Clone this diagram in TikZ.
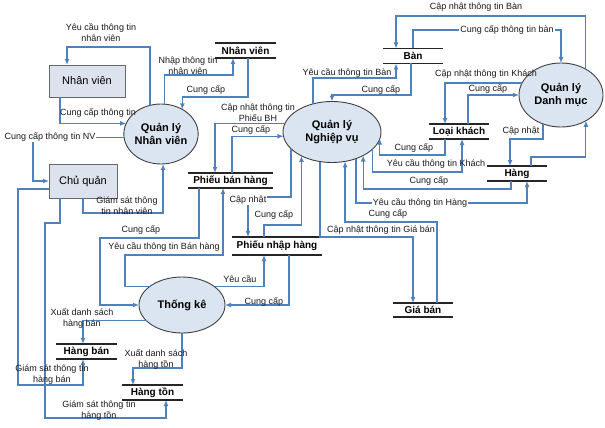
\documentclass[tikz,border=0pt]{standalone}
\usepackage{fontspec}
\setmainfont{Liberation Sans}
\usetikzlibrary{arrows.meta,shapes.geometric}
\definecolor{flowblue}{RGB}{79,129,189}
\definecolor{bubblefill}{RGB}{219,229,241}
\definecolor{boxfill}{RGB}{220,227,238}
\definecolor{edgegray}{RGB}{64,64,64}
\begin{document}
\begin{tikzpicture}[y=1pt, x=1pt, yscale=-1, inner sep=0pt, outer sep=0pt,
  flow/.style={draw=flowblue, line width=1.2pt, -{Latex[length=6pt,width=5pt]}},
  lbl/.style={font=\fontsize{9}{11}\selectfont, align=center, text=black!90},
  onlbl/.style={lbl, fill=white, inner sep=1pt},
  process/.style={ellipse, draw=edgegray, line width=0.9pt, fill=bubblefill, align=center,
    font=\fontsize{11}{13}\selectfont\bfseries},
  extern/.style={rectangle, draw=edgegray!80, line width=0.9pt, fill=boxfill,
    font=\fontsize{11}{13}\selectfont},
  store/.style={minimum width=#1, minimum height=15, font=\fontsize{10}{12}\selectfont\bfseries,
    append after command={(\tikzlastnode.north west) edge[draw=black!85, line width=1.2pt] (\tikzlastnode.north east)
      (\tikzlastnode.south west) edge[draw=black!85, line width=1.2pt] (\tikzlastnode.south east)}}]
\useasboundingbox (0,0) rectangle (605,428);
  \node[extern, minimum width=76, minimum height=32] (nvbox) at (87,81) {Nhân viên};
  \node[extern, minimum width=68, minimum height=34] (cqbox) at (83,181) {Chủ quản};
  \node[process, minimum width=72, minimum height=60] (qlnv) at (161,134) {Quản lý\\Nhân viên};
  \node[process, minimum width=98, minimum height=61] (qlnvu) at (332,132) {Quản lý\\Nghiệp vụ};
  \node[process, minimum width=84, minimum height=64] (qldm) at (561,95) {Quản lý\\Danh mục};
  \node[process, minimum width=86, minimum height=56] (tk) at (182,305) {Thống kê};
  \node[store=61] (dsnv) at (245.5,50.5) {Nhân viên};
  \node[store=60] (dsban) at (413,56) {Bàn};
  \node[store=60] (dslk) at (459,131.5) {Loại khách};
  \node[store=60] (dshang) at (517,173.5) {Hàng};
  \node[store=85] (dspbh) at (230.5,180.5) {Phiếu bán hàng};
  \node[store=90, minimum height=18] (dspnh) at (277,246) {Phiếu nhập hàng};
  \node[store=60, minimum height=14] (dsgb) at (423,310) {Giá bán};
  \node[store=61] (dshb) at (86.5,351.5) {Hàng bán};
  \node[store=61] (dsht) at (152.5,392.5) {Hàng tồn};

  \draw[flow] (qlnv.111) |- (67,47) -- (67,0 |- nvbox.north);
  \draw[flow] (60,0 |- nvbox.south) |- (qlnv.163);
  \draw[flow] (qlnv.186) -| (33,181) -- (cqbox.west);
  \draw[flow] (cqbox.south) |- (qlnv.-86 |- 0,213) -- (qlnv.-86);
  \draw[flow] (qlnv.84) |- (233,75) -- (233,0 |- dsnv.south);
  \draw[flow] (248,0 |- dsnv.south) |- (qlnv.49 |- 0,97) -- (qlnv.49);
  \draw[flow] (qlnvu.170) -| (215,0 |- dspbh.north);
  \draw[flow] (232,0 |- dspbh.north) |- (qlnvu.185);
  \draw[flow] (199,0 |- dspbh.south) |- (100,238) |- (tk.west);
  \draw[flow] (tk.150) -| (125,255) -| (223,0 |- dspbh.south);
  \draw[flow] (qlnvu.-158) |- (248,197) -- (248,0 |- dspnh.north);
  \draw[flow] (264,0 |- dspnh.north) |- (qlnvu.-142 |- 0,225) -- (qlnvu.-142);
  \draw[flow] (qlnvu.-112) |- (413,237) -- (413,0 |- dsgb.north);
  \draw[flow] (437,0 |- dsgb.north) |- (qlnvu.-66 |- 0,222) -- (qlnvu.-66);
  \draw[flow] (qlnvu.-48) |- (527,203) -- (527,0 |- dshang.south);
  \draw[flow] (511,0 |- dshang.south) |- (qlnvu.-37 |- 0,189) -- (qlnvu.-37);
  \draw[flow] (qlnvu.-23) |- (462,172) -- (462,0 |- dslk.south);
  \draw[flow] (445,0 |- dslk.south) |- (qlnvu.-8 |- 0,155) -- (qlnvu.-8);
  \draw[flow] (qlnvu.124) |- (396,78) -- (396,0 |- dsban.south);
  \draw[flow] (411,0 |- dsban.south) |- (332,95) -- (qlnvu.north);
  \draw[flow] (qldm.46) |- (396,16) -- (396,0 |- dsban.north);
  \draw[flow] (413,0 |- dsban.north) |- (qldm.north |- 0,30) -- (qldm.north);
  \draw[flow] (qldm.163) -| (445,0 |- dslk.north);
  \draw[flow] (468,0 |- dslk.north) |- (qldm.west);
  \draw[flow] (qldm.-122) |- (510,139) -- (510,0 |- dshang.north);
  \draw[flow] (531,0 |- dshang.north) |- (qldm.-46 |- 0,157) -- (qldm.-46);
  \draw[flow] (tk.29) -| (264,0 |- dspnh.south);
  \draw[flow] (289,0 |- dspnh.south) |- (tk.east);
  \draw[flow] (tk.-156) -| (83,0 |- dshb.north);
  \draw[flow] (cqbox.west |- 0,189) -| (18,385) -| (83,0 |- dshb.south);
  \draw[flow] (60,0 |- cqbox.south) |- (45,223) |- (166,418) -- (166,0 |- dsht.south);
  \draw[flow] (tk.south) |- (133,368) -- (133,0 |- dsht.north);

  \node[lbl] (tycnv) at (101,33) {Yêu cầu thông tin\\nhân viên};
  \node[lbl] (tccnv) at (98,113) {Cung cấp thông tin};
  \node[onlbl] (tcccq) at (50,137) {Cung cấp thông tin NV};
  \node[lbl] (tnhapnv) at (188,66) {Nhập thông tin\\nhân viên};
  \node[lbl] (tccdsnv) at (206,90) {Cung cấp};
  \node[lbl] (tgsnv) at (127,206) {Giám sát thông\\tin nhân viên};
  \node[lbl] (tcnpbh) at (258,113) {Cập nhật thông tin\\Phiếu BH};
  \node[lbl] (tccpbh) at (251,130) {Cung cấp};
  \node[lbl] (tccpbhtk) at (141,230) {Cung cấp};
  \node[lbl] (tycbh) at (164,247) {Yêu cầu thông tin Bán hàng};
  \node[onlbl] (tcnpnh) at (248,200) {Cập nhật};
  \node[lbl] (tccpnh) at (274,215) {Cung cấp};
  \node[lbl] (tcngb) at (381,230) {Cập nhật thông tin Giá bán};
  \node[lbl] (tccgb) at (388,214) {Cung cấp};
  \node[onlbl] (tychang) at (420,203) {Yêu cầu thông tin Hàng};
  \node[lbl] (tcchang) at (429,181) {Cung cấp};
  \node[lbl] (tyckhach) at (436,164) {Yêu cầu thông tin Khách};
  \node[lbl] (tcclk) at (414,148) {Cung cấp};
  \node[lbl] (tycban) at (347,73) {Yêu cầu thông tin Bàn};
  \node[lbl] (tccban) at (381,90) {Cung cấp};
  \node[lbl] (tcnban) at (476,7) {Cập nhật thông tin Bàn};
  \node[onlbl] (tccttban) at (507,30) {Cung cấp thông tin bàn};
  \node[lbl] (tcnkhach) at (486,74) {Cập nhật thông tin Khách};
  \node[lbl] (tcclkdm) at (488,89) {Cung cấp};
  \node[lbl] (tcnhang) at (521,131) {Cập nhật};
  \node[lbl] (tyctk) at (240,279) {Yêu cầu};
  \node[lbl] (tccpnhtk) at (264,302) {Cung cấp};
  \node[lbl] (txhb) at (82,318) {Xuất danh sách\\hàng bán};
  \node[lbl] (tgshb) at (52,375) {Giám sát thông tin\\hàng bán};
  \node[lbl] (txht) at (156,359) {Xuất danh sách\\hàng tồn};
  \node[lbl] (tgsht) at (99,411) {Giám sát thông tin\\hàng tồn};
\end{tikzpicture}
\end{document}
